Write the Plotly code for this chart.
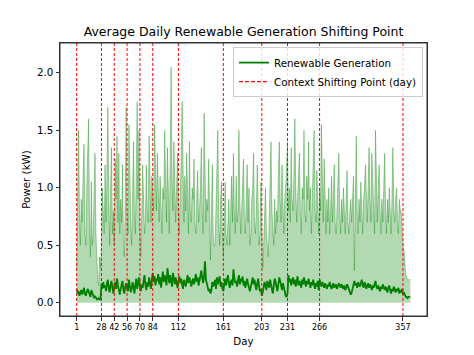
import plotly.graph_objects as go

# Daily maximum generation (kW), days 1..365
max_gen = (
    [0.30, 1.10, 1.50, 0.80, 0.50, 0.90, 0.70, 1.10, 1.38, 0.60]
    + [0.50, 1.00, 1.30, 1.60, 0.70, 0.40, 1.05, 0.50, 0.60, 1.00]
    + [1.30, 0.60, 0.30, 0.20, 0.15, 0.40, 0.30, 0.50, 1.00, 0.80]
    + [0.60, 1.20, 0.70, 1.10, 1.70, 0.90, 0.50, 1.00, 1.35, 0.60]
    + [0.80, 0.50, 1.25, 0.90, 1.45, 0.70, 1.30, 0.60, 0.90, 0.70]
    + [1.20, 0.50, 0.40, 0.90, 1.70, 0.80, 0.60, 1.55, 0.90, 0.70]
    + [0.50, 1.00, 1.40, 0.80, 0.60, 1.10, 1.75, 0.90, 1.50, 0.70]
    + [0.40, 0.80, 1.20, 0.90, 0.60, 0.70, 1.20, 0.80, 0.70, 1.45]
    + [1.00, 0.70, 1.10, 0.90, 0.80, 1.55, 1.00, 0.80, 1.30, 0.90]
    + [0.70, 1.10, 0.80, 0.60, 1.00, 0.90, 1.50, 1.00, 0.70, 1.35]
    + [0.90, 0.60, 1.20, 2.05, 1.10, 0.80, 1.40, 0.90, 0.70, 1.00]
    + [1.30, 0.80, 0.60, 1.00, 1.20, 1.75, 0.90, 0.70, 1.10, 0.80]
    + [1.30, 0.90, 0.60, 1.40, 0.80, 0.70, 1.00, 0.90, 1.25, 0.70]
    + [0.60, 0.90, 1.15, 0.70, 0.80, 1.00, 1.35, 0.80, 0.60, 1.65]
    + [1.00, 0.70, 0.90, 0.80, 1.25, 0.70, 0.37, 0.80, 1.20, 0.60]
    + [0.49, 0.50, 0.80, 1.00, 1.50, 0.70, 0.50, 0.90, 1.05, 0.60]
    + [0.40, 0.70, 1.05, 0.60, 0.50, 0.70, 0.90, 0.50, 0.80, 1.10]
    + [0.70, 1.30, 0.80, 0.60, 1.10, 0.70, 0.80, 1.50, 0.90, 0.60]
    + [0.80, 1.00, 1.25, 0.70, 0.60, 0.90, 1.20, 0.70, 1.00, 0.50]
    + [0.60, 0.90, 1.00, 1.30, 0.70, 0.60, 0.80, 1.20, 0.70, 0.50]
    + [0.60, 1.05, 0.70, 0.30, 0.50, 0.80, 1.00, 0.60, 0.50, 0.40]
    + [0.70, 1.00, 1.40, 0.80, 0.60, 0.50, 0.90, 0.60, 0.80, 0.70]
    + [1.10, 1.40, 0.90, 0.70, 1.20, 0.80, 0.60, 0.90, 1.00, 1.20]
    + [1.40, 0.80, 1.00, 0.70, 1.35, 0.90, 0.80, 1.10, 1.60, 1.00]
    + [0.70, 0.90, 1.20, 1.30, 0.80, 0.60, 1.00, 0.90, 1.50, 0.80]
    + [0.70, 1.10, 0.90, 1.40, 0.80, 1.00, 0.60, 0.90, 1.20, 1.50]
    + [0.80, 0.70, 1.15, 0.90, 0.60, 1.00, 0.80, 1.55, 0.90, 0.70]
    + [1.25, 0.80, 0.60, 0.90, 0.70, 1.00, 0.60, 0.80, 1.10, 0.70]
    + [0.90, 1.20, 0.70, 0.60, 0.80, 1.00, 1.30, 0.80, 0.60, 0.90]
    + [0.70, 1.00, 0.80, 0.60, 0.90, 1.15, 0.70, 0.60, 0.80, 0.90]
    + [0.70, 0.90, 1.10, 0.28, 0.90, 1.45, 0.80, 0.60, 0.90, 0.70]
    + [1.05, 0.80, 0.60, 0.90, 1.00, 1.20, 0.80, 0.70, 1.00, 1.35]
    + [0.90, 0.70, 1.30, 1.00, 0.80, 0.60, 1.50, 0.90, 0.70, 1.00]
    + [1.20, 0.80, 0.60, 0.90, 0.70, 1.00, 1.30, 0.80, 0.60, 0.90]
    + [0.70, 1.00, 0.80, 0.60, 0.90, 1.35, 0.80, 0.70, 0.90, 1.00]
    + [0.70, 0.60, 0.90, 0.80, 0.80, 0.60, 0.50, 0.45, 0.30, 0.25]
    + [0.22, 0.20, 0.20, 0.20, 0.20]
)

# Daily average generation (kW), days 1..365
avg_gen = (
    [0.12, 0.08, 0.10, 0.06, 0.09, 0.11, 0.07, 0.10, 0.13, 0.08]
    + [0.06, 0.09, 0.12, 0.10, 0.07, 0.05, 0.11, 0.08, 0.05, 0.04]
    + [0.06, 0.04, 0.03, 0.03, 0.04, 0.03, 0.03, 0.16, 0.12, 0.18]
    + [0.13, 0.15, 0.10, 0.17, 0.20, 0.12, 0.09, 0.16, 0.19, 0.13]
    + [0.08, 0.14, 0.18, 0.12, 0.21, 0.15, 0.10, 0.07, 0.12, 0.16]
    + [0.19, 0.11, 0.08, 0.14, 0.17, 0.13, 0.10, 0.20, 0.15, 0.09]
    + [0.12, 0.18, 0.14, 0.08, 0.15, 0.21, 0.12, 0.17, 0.22, 0.14]
    + [0.10, 0.16, 0.13, 0.19, 0.24, 0.15, 0.11, 0.18, 0.14, 0.22]
    + [0.17, 0.12, 0.20, 0.26, 0.18, 0.23, 0.15, 0.21, 0.19, 0.25]
    + [0.16, 0.22, 0.13, 0.19, 0.27, 0.18, 0.24, 0.20, 0.15, 0.30]
    + [0.21, 0.17, 0.24, 0.19, 0.14, 0.26, 0.20, 0.16, 0.22, 0.18]
    + [0.13, 0.19, 0.23, 0.17, 0.21, 0.16, 0.12, 0.20, 0.18, 0.14]
    + [0.20, 0.24, 0.17, 0.22, 0.19, 0.14, 0.18, 0.21, 0.16, 0.20]
    + [0.25, 0.18, 0.22, 0.15, 0.19, 0.24, 0.28, 0.21, 0.17, 0.23]
    + [0.36, 0.20, 0.16, 0.13, 0.10, 0.12, 0.08, 0.11, 0.18, 0.14]
    + [0.17, 0.20, 0.12, 0.22, 0.16, 0.19, 0.23, 0.14, 0.18, 0.12]
    + [0.10, 0.16, 0.21, 0.15, 0.19, 0.24, 0.17, 0.13, 0.18, 0.20]
    + [0.15, 0.29, 0.22, 0.17, 0.19, 0.14, 0.20, 0.24, 0.16, 0.21]
    + [0.18, 0.23, 0.15, 0.19, 0.13, 0.17, 0.21, 0.16, 0.12, 0.10]
    + [0.14, 0.18, 0.22, 0.16, 0.20, 0.15, 0.11, 0.17, 0.21, 0.14]
    + [0.10, 0.12, 0.06, 0.09, 0.14, 0.18, 0.15, 0.11, 0.19, 0.16]
    + [0.13, 0.20, 0.17, 0.12, 0.08, 0.15, 0.21, 0.18, 0.14, 0.10]
    + [0.16, 0.22, 0.19, 0.14, 0.11, 0.17, 0.13, 0.09, 0.06, 0.05]
    + [0.08, 0.24, 0.18, 0.21, 0.15, 0.19, 0.22, 0.16, 0.20, 0.14]
    + [0.18, 0.23, 0.15, 0.19, 0.17, 0.13, 0.20, 0.16, 0.22, 0.18]
    + [0.14, 0.19, 0.16, 0.21, 0.17, 0.13, 0.18, 0.15, 0.20, 0.16]
    + [0.12, 0.17, 0.14, 0.19, 0.11, 0.20, 0.16, 0.14, 0.18, 0.15]
    + [0.13, 0.17, 0.15, 0.12, 0.16, 0.14, 0.18, 0.15, 0.12, 0.14]
    + [0.17, 0.13, 0.15, 0.16, 0.12, 0.14, 0.17, 0.15, 0.13, 0.16]
    + [0.14, 0.12, 0.15, 0.11, 0.13, 0.16, 0.14, 0.12, 0.10, 0.07]
    + [0.09, 0.12, 0.16, 0.19, 0.15, 0.17, 0.13, 0.18, 0.16, 0.14]
    + [0.17, 0.20, 0.15, 0.13, 0.18, 0.16, 0.12, 0.15, 0.17, 0.13]
    + [0.16, 0.14, 0.11, 0.15, 0.13, 0.16, 0.19, 0.14, 0.12, 0.15]
    + [0.13, 0.10, 0.14, 0.12, 0.16, 0.13, 0.11, 0.14, 0.12, 0.09]
    + [0.13, 0.15, 0.11, 0.08, 0.12, 0.10, 0.14, 0.11, 0.09, 0.12]
    + [0.10, 0.13, 0.08, 0.11, 0.09, 0.12, 0.07, 0.09, 0.06, 0.05]
    + [0.05, 0.04, 0.05, 0.05, 0.05]
)

shift_days = [1, 28, 42, 56, 70, 84, 112, 161, 203, 231, 266, 357]
y_ticks = [0.0, 0.5, 1.0, 1.5, 2.0]

days_max = list(range(1, len(max_gen) + 1))
days_avg = list(range(1, len(avg_gen) + 1))

font_family = "DejaVu Sans, Liberation Sans, sans-serif"

# The page body adds an 8px offset on the left and top
W, H = 466, 347
ML, MR, MT, MB = 52, 47, 35, 39

fig = go.Figure()

# Light band: daily range filled down to zero
fig.add_trace(go.Scatter(
    x=days_max, y=[0.0] * len(max_gen), mode="lines",
    line=dict(width=0, color="rgba(0,128,0,0)"),
    showlegend=False, hoverinfo="skip",
))
fig.add_trace(go.Scatter(
    x=days_max, y=max_gen, mode="lines", fill="tonexty",
    fillcolor="rgba(0,128,0,0.3)",
    line=dict(width=1, color="rgba(0,128,0,0.35)"),
    showlegend=False,
))

# Average line
fig.add_trace(go.Scatter(
    x=days_avg, y=avg_gen, mode="lines",
    line=dict(width=1.8, color="green"),
    name="Renewable Generation",
))

# Legend entry for shifting points
fig.add_trace(go.Scatter(
    x=[None], y=[None], mode="lines",
    line=dict(width=1.3, color="red", dash="4px,2px"),
    name="Context Shifting Point (day)",
))

for d in shift_days:
    fig.add_vline(x=d, line=dict(color="red", width=1, dash="3px,2px"), layer="above")

# Axes frame
fig.add_shape(type="rect", xref="paper", yref="paper", x0=0, y0=0, x1=1, y1=1,
              line=dict(color="#333333", width=1), fillcolor="rgba(0,0,0,0)",
              layer="above")

fig.update_layout(
    width=W, height=H,
    margin=dict(l=ML, r=MR, t=MT, b=MB, autoexpand=False),
    paper_bgcolor="white", plot_bgcolor="white",
    font=dict(family=font_family, size=10, color="black"),
    title=dict(
        text="Average Daily Renewable Generation Shifting Point",
        x=(ML + (W - MR)) / 2 / W, xanchor="center",
        y=1 - 24 / H, yanchor="middle",
        font=dict(size=12.5, color="black"),
    ),
    showlegend=True,
    legend=dict(
        x=0.989, y=0.985, xanchor="right", yanchor="top",
        bgcolor="rgba(255,255,255,0.8)",
        bordercolor="#cccccc", borderwidth=1,
        font=dict(size=10.3, color="black"),
        itemwidth=30, tracegroupgap=0, traceorder="normal",
    ),
    xaxis=dict(
        range=[-17.2, 383.2], automargin=False,
        tickmode="array", tickvals=shift_days,
        ticktext=[str(d) for d in shift_days],
        tickfont=dict(size=8),
        ticks="outside", ticklen=3.5, tickwidth=1, tickcolor="#333333",
        showline=True, linecolor="#333333", linewidth=1, mirror=True,
        showgrid=False, zeroline=False,
        title=dict(text="Day", font=dict(size=10.3), standoff=6),
    ),
    yaxis=dict(
        range=[-0.1157, 2.26], automargin=False,
        tickmode="array", tickvals=y_ticks,
        ticktext=[f"{v:.1f}" for v in y_ticks],
        tickfont=dict(size=10.3),
        ticks="outside", ticklen=3.5, tickwidth=1, tickcolor="#333333",
        showline=True, linecolor="#333333", linewidth=1, mirror=True,
        showgrid=False, zeroline=False,
        title=dict(text="Power (kW)", font=dict(size=10.3), standoff=4),
    ),
)

fig.write_html("out.html")
